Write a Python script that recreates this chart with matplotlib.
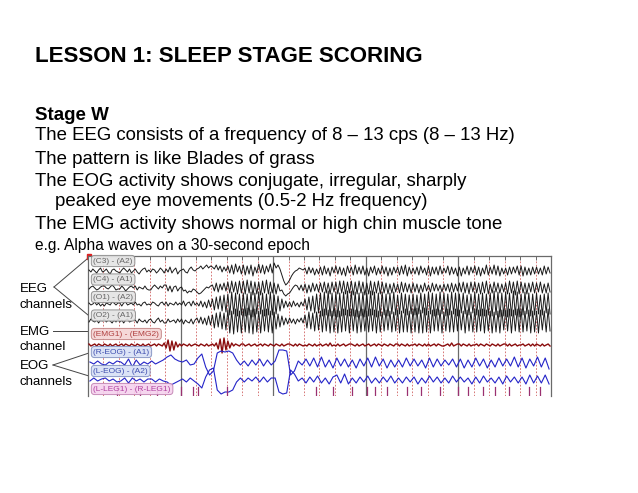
import numpy as np
import matplotlib
matplotlib.use("Agg")
import matplotlib.pyplot as plt
from matplotlib.patches import Rectangle

plt.rcParams['font.family'] = ['Liberation Sans', 'DejaVu Sans']

# ---------------- slide text ----------------
title = "LESSON 1: SLEEP STAGE SCORING"
subtitle = "Stage W"
bullets = [
    "The EEG consists of a frequency of 8 \u2013 13 cps (8 \u2013 13 Hz)",
    "The pattern is like Blades of grass",
    "The EOG activity shows conjugate, irregular, sharply",
    "peaked eye movements (0.5-2 Hz frequency)",
    "The EMG activity shows normal or high chin muscle tone",
]
example = "e.g. Alpha waves on a 30-second epoch"

# ---------------- EEG epoch data (amplitude values, one row = 1 s) ----------------
epoch_seconds = 30
channel_labels = ["(C3) - (A2)", "(C4) - (A1)", "(O1) - (A2)", "(O2) - (A1)",
                  "(EMG1) - (EMG2)", "(R-EOG) - (A1)", "(L-EOG) - (A2)",
                  "(L-LEG1) - (R-LEG1)"]

c3 = [1,-1,2,0,-2,1,3,-1, 0,2,-1,-3,1,2,0,-1, -2,1,3,1,-1,2,-2,0, 2,-1,-3,0,2,3,-1,1,
      -1,2,1,-2,0,3,1,-2, 2,-1,4,-2,1,3,-3,0, 1,2,-1,-2,2,4,1,0, 2,3,5,2,4,6,3,5,
      4,2,6,1,5,-1,4,0, 5,-2,6,-3,7,-1,5,-3, 6,-4,5,-3,6,-5,4,-2, 7,-2,6,-3,5,-1,7,-2,
      8,3,6,2,-4,-10,-14,-12, -9,-5,-2,0,1,3,2,1, 3,-3,4,-2,3,-4,2,-3, 4,-4,5,-3,3,-5,4,-2,
      5,-3,4,-4,3,-5,5,-2, 4,-4,6,-3,4,-3,5,-4, 3,-5,4,-2,5,-4,3,-3, 5,-3,4,-5,3,-4,4,-2,
      4,-4,5,-3,6,-5,4,-3, 3,-3,4,-4,5,-2,3,-4, 5,-5,4,-3,4,-4,5,-3, 3,-2,5,-4,4,-3,3,-5,
      4,-5,3,-3,5,-4,4,-2, 5,-4,4,-5,3,-3,6,-4, 4,-3,6,-4,5,-5,3,-3, 3,-4,4,-3,4,-2,5,-4,
      5,-5,4,-4,3,-4,4,-3, 4,-3,3,-4,5,-3,4,-2]
c4 = [-1,1,2,0,-2,-1,1,2, 2,0,-1,1,3,1,-2,-1, -1,2,0,-3,-1,1,2,0, 2,-2,1,0,-1,2,-1,-2,
      -2,1,3,1,-1,2,0,3, 3,-3,2,-4,1,2,-3,0, 1,-3,-2,-5,-3,-4,-1,-2, -4,-6,-5,-3,-1,1,0,2,
      3,-3,5,-4,4,-2,5,-3, 6,-5,7,-4,6,-6,7,-5, 7,-6,8,-5,7,-7,6,-6, 6,-7,7,-5,8,-6,6,-5,
      5,-6,4,-3,-2,-6,-8,-6, -5,-2,1,3,2,-2,3,-3, 4,-5,3,-4,5,-3,4,-4, 5,-4,6,-5,5,-6,6,-4,
      6,-6,7,-5,7,-6,6,-5, 7,-7,6,-6,7,-5,6,-7, 5,-6,7,-7,6,-5,7,-6, 6,-5,5,-6,4,-5,5,-4,
      4,-5,6,-4,5,-4,4,-5, 5,-4,4,-5,3,-4,5,-3, 3,-4,5,-3,4,-3,3,-4, 4,-3,4,-4,5,-4,4,-3,
      5,-4,6,-5,5,-6,6,-4, 6,-5,5,-6,6,-5,7,-6, 4,-5,6,-4,5,-5,4,-4, 5,-6,7,-5,6,-7,7,-6,
      6,-5,5,-6,5,-4,6,-5, 5,-4,6,-5,4,-5,5,-4]
o1 = [1,-1,0,2,-1,1,-2,0, -2,1,0,-1,2,1,-1,1, 1,-2,1,2,-1,0,1,-1, 2,-1,0,-2,1,2,-1,0,
      -1,2,1,-1,-2,1,2,-1, 2,-2,1,0,-1,2,-1,1, -1,3,-2,1,2,-2,3,-1, 1,-2,3,-3,2,-4,4,-3,
      5,-6,7,-5,8,-7,9,-8, 10,-11,12,-10,11,-12,10,-11, 11,-12,10,-11,12,-13,11,-10, 12,-10,11,-12,10,-11,12,-11,
      9,-10,8,-7,5,-4,3,-3, 2,-3,3,-2,1,-3,2,-2, 5,-6,7,-7,8,-9,10,-9, 11,-12,12,-11,13,-12,11,-12,
      12,-13,11,-12,12,-11,13,-12, 13,-12,12,-13,11,-12,12,-13, 11,-12,13,-11,12,-13,11,-12, 12,-11,10,-12,11,-10,12,-11,
      9,-10,11,-9,10,-11,9,-10, 10,-11,9,-10,11,-9,10,-11, 12,-10,11,-12,10,-11,12,-10, 11,-12,10,-11,12,-10,11,-12,
      10,-9,11,-10,9,-11,10,-9, 12,-11,10,-12,11,-12,10,-11, 11,-12,13,-11,12,-13,11,-12, 12,-13,11,-12,13,-11,12,-13,
      10,-11,12,-10,11,-12,10,-11, 11,-10,9,-11,10,-9,11,-10]
o2 = [-1,2,0,-1,1,-2,1,0, 2,-1,1,0,-2,1,-1,2, -1,1,-2,1,2,-1,0,1, 1,-2,2,0,-1,1,-2,1,
      2,-1,-2,1,3,-1,1,-2, -2,2,-1,0,1,-2,2,-1, 2,-3,1,-1,-2,2,-3,1, 3,-2,4,-3,3,-4,5,-4,
      6,-7,8,-6,9,-8,8,-9, 11,-12,10,-13,12,-11,10,-12, 12,-11,13,-12,11,-13,12,-11, 10,-12,11,-10,12,-11,10,-12,
      9,-8,7,-6,5,-4,3,-3, 3,-2,2,-3,2,-1,3,-2, 6,-7,9,-8,8,-10,9,-9, 10,-11,12,-10,11,-12,10,-11,
      11,-12,10,-11,12,-10,11,-12, 12,-10,11,-12,10,-11,12,-10, 10,-11,12,-10,11,-12,10,-11, 9,-10,11,-9,10,-11,9,-10,
      11,-12,10,-11,12,-11,10,-12, 12,-11,13,-12,11,-12,13,-11, 10,-12,11,-10,12,-10,11,-12, 9,-10,12,-11,10,-11,12,-10,
      11,-9,10,-12,11,-10,9,-11, 12,-11,11,-10,12,-12,11,-10, 10,-12,9,-11,10,-12,11,-9, 11,-10,12,-12,11,-10,12,-11,
      12,-11,10,-10,11,-12,10,-11, 10,-12,11,-9,10,-11,12,-10]
emg = [1,-1,0,1,-1,1,0,-1, 1,0,-1,1,-1,0,1,-1, 0,1,-1,1,0,-1,1,0, -1,1,0,-1,1,-1,0,1,
       -1,0,1,-1,1,0,-1,2, -3,5,-6,4,-5,3,-2,1, -1,1,0,-1,1,-1,0,1, 0,-1,1,0,-1,1,-1,0,
       1,-1,2,-4,6,-8,7,-5, 4,-3,2,-1,1,0,-1,1, 1,-1,0,1,-1,0,1,-1, 0,1,-1,1,0,-1,1,0,
       -1,1,0,-1,1,-1,0,1, 1,0,-1,1,-1,1,0,-1, 0,-1,1,0,-1,1,-1,0, 1,-1,0,1,-1,2,-1,0,
       -1,1,-1,0,1,-1,0,1, 1,0,-1,1,-1,0,1,-1, 0,1,-1,0,1,-1,1,0, -1,1,0,-1,1,0,-1,1,
       1,-1,1,0,-1,1,-1,0, 0,1,-1,1,0,-1,1,-1, 1,-1,0,1,-1,1,0,-1, -1,0,1,-1,2,-1,0,1,
       1,-1,1,0,-1,1,-1,0, 0,1,-1,1,0,-1,1,0, -1,1,0,-1,1,-1,0,1, 1,-1,1,-1,0,1,-1,0,
       0,1,-1,0,1,-1,1,-1, 1,0,-1,1,-1,0,1,-1]
r_eog = [1,-1,2,-1, -2,1,-1,2, 1,-2,4,-4, 3,-2,1,-1, 2,-1,1,3, 6,8,4,2, 1,3,-2,-1, 5,9,-4,-12, -8,10,12,11, 12,10,3,-2,
         2,-3,3,-2, 4,-3,3,-2, 2,13,13,12, -12,-8,2,-2, 4,-3,5,-4, 6,-4,3,-5, 5,-3,4,-4, 3,-5,4,-3, 5,-4,6,-3, 4,-5,3,-4,
         3,-4,5,-3, 4,-3,3,-5, 5,-4,4,-3, 3,-2,4,-4, 4,-5,3,-4, 5,-3,4,-5, 3,-4,5,-3, 4,-3,6,-4, 5,-5,4,-3, 6,-4,5,-6]
l_eog = [-1,2,-1,1, 2,-1,1,-2, -1,2,-3,2, -1,1,-2,1, 1,-2,1,-1, -2,-5,-3,-1, 1,-2,2,-1, -4,-8,3,10, 12,-10,-14,-12, -12,-10,-2,2,
         -2,2,-1,3, -2,3,-2,2, 2,-12,-14,-13, 10,6,-1,2, -3,3,-2,4, -3,2,-4,3, 5,-3,6,-4, 2,-3,3,-2, 4,-3,2,-3, 3,-2,4,-3,
         2,-3,3,-2, 3,-4,2,-3, 4,-2,3,-3, 2,-3,4,-2, 3,-2,2,-4, 3,-3,4,-2, 2,-3,3,-4, 4,-2,3,-3, 3,-4,5,-3, 4,-3,5,-4]
leg_marks = [1.9, 3.4, 4.5, 6.0, 6.8, 7.1, 9.0, 14.8, 15.9, 17.1, 18.1, 18.6, 19.4,
             20.7, 21.6, 22.8, 24.0, 24.6, 25.6, 26.4, 27.3, 28.6, 29.3]

# ---------------- figure ----------------
W, H = 638, 493
fig = plt.figure(figsize=(W / 100, H / 100), dpi=100)
fig.patch.set_facecolor("white")

ov = fig.add_axes([0, 0, 1, 1])
ov.set_xlim(0, W)
ov.set_ylim(H, 0)
ov.axis("off")

ov.text(35, 62, title, fontsize=16, fontweight="bold", va="baseline", ha="left", color="black")
ov.text(35, 120, subtitle, fontsize=13.5, fontweight="bold", va="baseline", ha="left", color="black")
bullet_y = [140, 164, 186, 206, 229]
bullet_x = [35, 35, 35, 55, 35]
for xx, yy, s in zip(bullet_x, bullet_y, bullets):
    ov.text(xx, yy, s, fontsize=13.4, va="baseline", ha="left", color="black")
ov.text(35, 250, example, fontsize=11.2, va="baseline", ha="left", color="black")

# annotation labels on left
ann_fs = 9.5
ov.text(20, 292, "EEG", fontsize=ann_fs, va="baseline")
ov.text(20, 308, "channels", fontsize=ann_fs, va="baseline")
ov.text(20, 335, "EMG", fontsize=ann_fs, va="baseline")
ov.text(20, 350, "channel", fontsize=ann_fs, va="baseline")
ov.text(20, 369, "EOG", fontsize=ann_fs, va="baseline")
ov.text(20, 385, "channels", fontsize=ann_fs, va="baseline")
lc = "#444444"
ov.plot([54, 87], [287, 259], color=lc, lw=0.7)
ov.plot([54, 88], [287, 315], color=lc, lw=0.7)
ov.plot([53, 88], [331, 331], color=lc, lw=0.7)
ov.plot([53, 89], [365, 353], color=lc, lw=0.7)
ov.plot([53, 89], [365, 376], color=lc, lw=0.7)

# ---------------- EEG axes ----------------
x0, x1, ytop, ybot = 88, 551, 256, 396
ax = fig.add_axes([x0 / W, 1 - ybot / H, (x1 - x0) / W, (ybot - ytop) / H])
ax.set_xlim(0, epoch_seconds)
ax.set_ylim(ybot, ytop)
ax.set_facecolor("white")

for s in range(1, epoch_seconds):
    if s % 6 == 0:
        ax.axvline(s, color="#6a6a6a", lw=0.9, zorder=1)
    else:
        ax.axvline(s, color="#d06060", lw=0.6, ls=(0, (2, 2)), zorder=1)

for sp in ["left", "right", "top"]:
    ax.spines[sp].set_color("#6a6a6a")
    ax.spines[sp].set_linewidth(0.9)
ax.spines["bottom"].set_visible(False)
ax.set_xticks(np.arange(0, epoch_seconds + 1, 1))
ax.tick_params(axis="x", which="both", bottom=False, labelbottom=False, top=True,
               direction="in", length=3, color="#6a6a6a", width=0.7)
ax.set_yticks([])

traces = [c3, c4, o1, o2, emg, r_eog, l_eog]
baselines = [271, 288, 304, 321, 345, 363, 380]
colors = ["#1a1a1a", "#1a1a1a", "#1a1a1a", "#1a1a1a", "#8a0c0c", "#2424c8", "#2424c8"]
widths = [0.7, 0.7, 0.7, 0.7, 1.0, 0.8, 0.8]
for tr, base, col, lw in zip(traces, baselines, colors, widths):
    vals = np.asarray(tr, dtype=float)
    t = (np.arange(len(vals)) + 0.5) * epoch_seconds / len(vals)
    ax.plot(t, base - vals, color=col, lw=lw, zorder=3)

for m in leg_marks:
    ax.plot([m, m], [387, 396], color="#9a3070", lw=0.9, zorder=3)

# channel label boxes
label_y = [261, 279.5, 297, 315.5, 334, 352, 371, 389]
styles = [("#e4e4e4", "#8a8a8a", "#666666")] * 4 + [
    ("#f4d4d4", "#c08080", "#b04040"),
    ("#d8e0f6", "#8090c0", "#4050b0"),
    ("#d8e0f6", "#8090c0", "#4050b0"),
    ("#f6d2ee", "#c080b0", "#b040a0"),
]
for lab, yy, (fc, ec, tc) in zip(channel_labels, label_y, styles):
    ax.text(0.35, yy, lab, fontsize=6, color=tc, va="center", ha="left", zorder=5,
            bbox=dict(boxstyle="round,pad=0.25,rounding_size=0.4", fc=fc, ec=ec, lw=0.7, alpha=0.9))

ov.add_patch(Rectangle((87, 254), 4, 5, color="#e02020", zorder=10))

fig.savefig("out.png", dpi=100, facecolor="white")
